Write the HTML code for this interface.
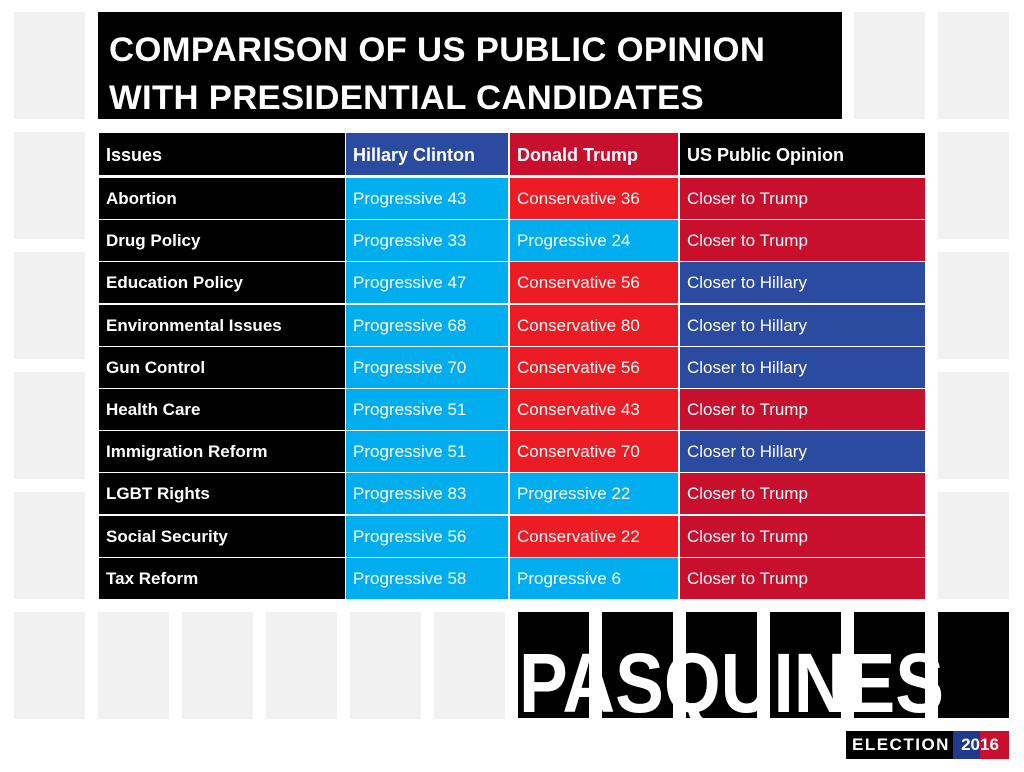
<!DOCTYPE html>
<html><head><meta charset="utf-8"><style>
body{margin:0;width:1024px;height:772px;background:#fff;position:relative;overflow:hidden;font-family:"Liberation Sans",sans-serif}
.sq{position:absolute;width:71px;height:107px;background:#f1f1f1}
.bk{position:absolute;width:71px;height:106px;background:#000}
#title{position:absolute;left:98px;top:12px;width:744px;height:107px;background:#000;color:#fff;font-weight:bold;font-size:34.7px;line-height:48px;box-sizing:border-box;padding:14px 0 0 11px;letter-spacing:0.3px;white-space:nowrap}
#tbl{position:absolute;left:99px;top:133px;width:826px}
.row{position:absolute;left:0;height:41px;width:826px}
.c{position:absolute;top:0;height:41px;line-height:41px;color:#fff;font-size:17px;padding-left:7px;box-sizing:border-box;white-space:nowrap}
.c0{left:0;width:246px;background:#000;font-weight:bold}
.c1{left:247px;width:162px}
.c2{left:411px;width:168px}
.c3{left:581px;width:245px}
.lb{background:#00aeef}.rd{background:#ed1c24}.ob{background:#2a4ba0}.or{background:#c8102e}
#logo{position:absolute;left:519px;top:641px;font-size:84px;font-weight:bold;color:#fff;letter-spacing:0px;line-height:84px;transform:scaleX(0.87);transform-origin:left top;white-space:nowrap}
#badge{position:absolute;left:846px;top:731px;height:28px;width:163px;background:#000;color:#fff;font-weight:bold;font-size:17px;line-height:28px}
</style></head><body>
<div id="bg"></div>
<div id="title">COMPARISON OF US PUBLIC OPINION<br>WITH PRESIDENTIAL CANDIDATES</div>
<div id="tbl"></div>
<div id="logo">PASQUINES</div>
<div id="badge"><span style="padding-left:6px;letter-spacing:1.5px">ELECTION</span><span style="position:absolute;left:107px;width:27px;background:#1f3a8a;text-align:right">20</span><span style="position:absolute;left:134px;width:29px;background:#c8102e">16</span></div>
<script>
const issues=["Abortion","Drug Policy","Education Policy","Environmental Issues","Gun Control","Health Care","Immigration Reform","LGBT Rights","Social Security","Tax Reform"];
const clinton=["Progressive 43","Progressive 33","Progressive 47","Progressive 68","Progressive 70","Progressive 51","Progressive 51","Progressive 83","Progressive 56","Progressive 58"];
const trump=["Conservative 36","Progressive 24","Conservative 56","Conservative 80","Conservative 56","Conservative 43","Conservative 70","Progressive 22","Conservative 22","Progressive 6"];
const opinion=["Closer to Trump","Closer to Trump","Closer to Hillary","Closer to Hillary","Closer to Hillary","Closer to Trump","Closer to Hillary","Closer to Trump","Closer to Trump","Closer to Trump"];
const bg=document.getElementById('bg');
for(let r=0;r<6;r++)for(let c=0;c<12;c++){
 const x=14+c*84,y=12+r*120;
 if(r==0&&c>=1&&c<=9)continue;
 if(r>=1&&r<=4&&c>=1&&c<=10)continue;
 if(r==5&&c>=6){const b=document.createElement('div');b.className='bk';b.style.left=x+'px';b.style.top=y+'px';
 
 bg.appendChild(b);continue;}
 const d=document.createElement('div');d.className='sq';d.style.left=x+'px';d.style.top=y+'px';
 
 
 bg.appendChild(d);
}
const t=document.getElementById('tbl');
function cell(row,cls,txt,name){const d=document.createElement('div');d.className='c '+cls;d.textContent=txt;
 
 row.appendChild(d);}
const h=document.createElement('div');h.className='row';h.style.top='0px';h.style.height='42px';


cell(h,'c0','Issues','header-issues');
cell(h,'c1','Hillary Clinton','header-clinton');
cell(h,'c2','Donald Trump','header-trump');
cell(h,'c3','US Public Opinion','header-opinion');
h.children[1].style.background='#2a4ba0';h.children[2].style.background='#c8102e';h.children[3].style.background='#000';
for(const k of h.children){k.style.fontWeight='bold';k.style.fontSize='18px';k.style.height='42px';k.style.lineHeight='44px';}
t.appendChild(h);
issues.forEach((iss,i)=>{
 const r=document.createElement('div');r.className='row';r.style.top=(45+i*42.2)+'px';
 
 
 cell(r,'c0',iss,'issue-cell');
 cell(r,'c1 lb',clinton[i],'clinton-cell');
 cell(r,'c2 '+(trump[i].startsWith('Prog')?'lb':'rd'),trump[i],'trump-cell');
 cell(r,'c3 '+(opinion[i].includes('Hillary')?'ob':'or'),opinion[i],'opinion-cell');
 t.appendChild(r);
});
</script>
</body></html>
